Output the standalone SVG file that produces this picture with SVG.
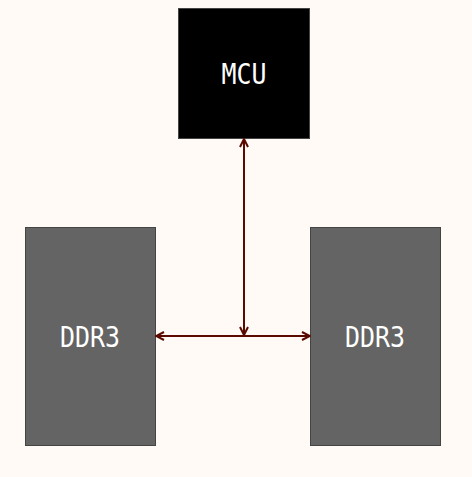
<svg xmlns="http://www.w3.org/2000/svg" width="472" height="477" viewBox="0 0 472 477">
<style>
.node rect{stroke:#444;stroke-width:1}
.lbl{font-family:"DejaVu Sans Mono","Liberation Mono",monospace;font-size:28px;fill:#fff;text-anchor:middle;dominant-baseline:central}
.conn{stroke:#5a0a00;stroke-width:2;fill:none}
</style>
<defs>
<marker id="arr" viewBox="0 0 10 10" refX="9" refY="5" markerWidth="10" markerHeight="10" markerUnits="userSpaceOnUse" orient="auto-start-reverse">
<path d="M1,1 L9,5 L1,9" fill="none" stroke="#5a0a00" stroke-width="2"/>
</marker>
</defs>
<rect width="472" height="477" fill="#fffaf5"/>
<g id="mcu" class="node"><rect x="178.5" y="8.5" width="131" height="130" fill="#000"/><text class="lbl" x="244" y="74" textLength="45" lengthAdjust="spacingAndGlyphs">MCU</text></g>
<g id="ddr3-left" class="node"><rect x="25.5" y="227.5" width="130" height="218" fill="#646464"/><text class="lbl" x="90" y="337" textLength="60" lengthAdjust="spacingAndGlyphs">DDR3</text></g>
<g id="ddr3-right" class="node"><rect x="310.5" y="227.5" width="130" height="218" fill="#646464"/><text class="lbl" x="375" y="337" textLength="60" lengthAdjust="spacingAndGlyphs">DDR3</text></g>
<g id="connectors">
<path class="conn" d="M244,139 L244,335" marker-start="url(#arr)" marker-end="url(#arr)"/>
<path class="conn" d="M156,336 L310,336" marker-start="url(#arr)" marker-end="url(#arr)"/>
</g>
</svg>
